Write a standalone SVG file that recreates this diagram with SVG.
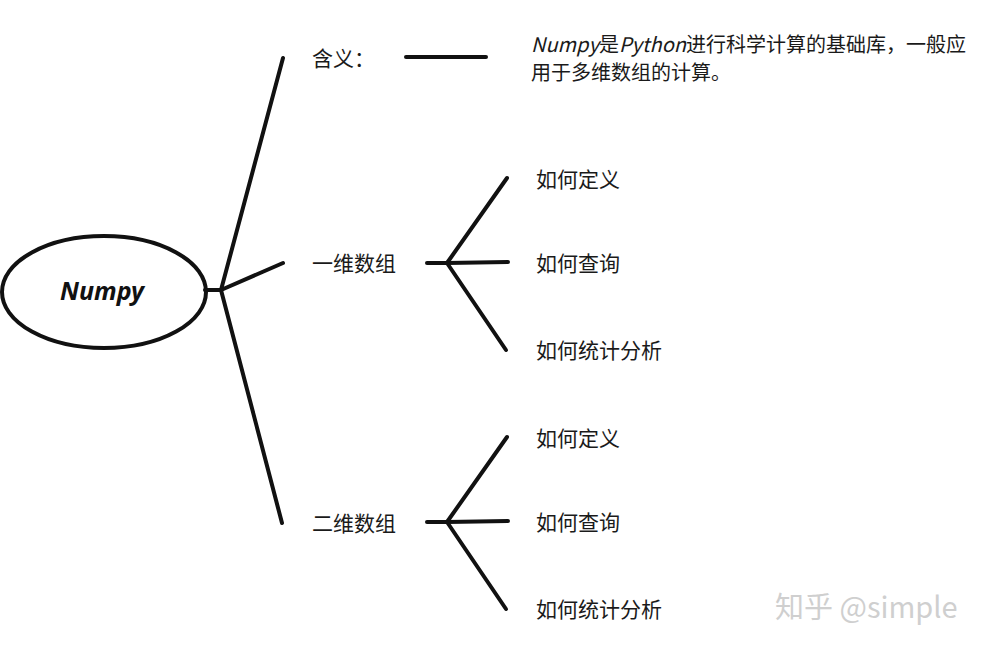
<svg xmlns="http://www.w3.org/2000/svg" width="985" height="652" viewBox="0 0 985 652">
<style>
.ln{stroke:#111;stroke-width:4;stroke-linecap:round;fill:none}
.t{font-family:"Noto Sans CJK SC","Noto Sans",sans-serif;font-size:21px;fill:#1a1a1a}
.d{font-size:20px}
.i{font-style:italic}
</style>
<rect width="985" height="652" fill="#fff"/>
<g id="connectors">
<line class="ln" x1="205" y1="290" x2="221" y2="290"/>
<line class="ln" x1="221" y1="290" x2="283" y2="58"/>
<line class="ln" x1="221" y1="290" x2="283" y2="263"/>
<line class="ln" x1="221" y1="290" x2="282" y2="523"/>
<line class="ln" x1="406" y1="57" x2="486" y2="57"/>
<line class="ln" x1="427" y1="263" x2="447" y2="263"/>
<line class="ln" x1="447" y1="263" x2="507" y2="178"/>
<line class="ln" x1="447" y1="263" x2="508" y2="262"/>
<line class="ln" x1="447" y1="263" x2="506" y2="350"/>
<line class="ln" x1="427" y1="522" x2="447" y2="522"/>
<line class="ln" x1="447" y1="522" x2="507" y2="437"/>
<line class="ln" x1="447" y1="522" x2="508" y2="521"/>
<line class="ln" x1="447" y1="522" x2="506" y2="609"/>
</g>
<g id="root">
<ellipse cx="104" cy="292" rx="102" ry="56" fill="none" stroke="#111" stroke-width="4"/>
<text x="102" y="300" text-anchor="middle" font-family="'Noto Sans',sans-serif" font-size="25" font-style="italic" font-weight="bold" fill="#111">Numpy</text>
</g>
<g id="meaning"><text class="t" x="312" y="66">含义：</text></g>
<g id="desc"><text class="t d" x="531" y="52"><tspan class="i">Numpy</tspan>是<tspan class="i">Python</tspan>进行科学计算的基础库，一般应</text>
<text class="t d" x="531" y="80">用于多维数组的计算。</text></g>
<g id="arr1"><text class="t" x="312" y="271">一维数组</text></g>
<g id="arr1-def"><text class="t" x="536" y="187">如何定义</text></g>
<g id="arr1-query"><text class="t" x="536" y="271">如何查询</text></g>
<g id="arr1-stat"><text class="t" x="536" y="358">如何统计分析</text></g>
<g id="arr2"><text class="t" x="312" y="531">二维数组</text></g>
<g id="arr2-def"><text class="t" x="536" y="446">如何定义</text></g>
<g id="arr2-query"><text class="t" x="536" y="530">如何查询</text></g>
<g id="arr2-stat"><text class="t" x="536" y="617">如何统计分析</text></g>
<text x="775" y="618" font-family="'Noto Sans CJK SC',sans-serif" font-size="29" fill="#cfcfcf">知乎 @simple</text>
</svg>
